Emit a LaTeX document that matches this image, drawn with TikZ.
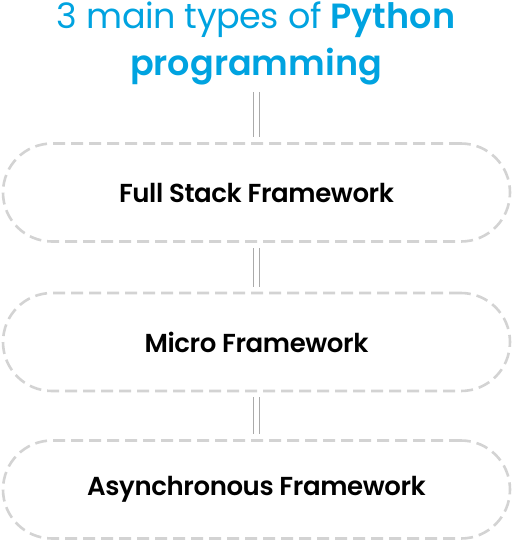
\documentclass[tikz,border=0pt]{standalone}
\usepackage{fontspec}
\setmainfont{Poppins}[BoldFont={* SemiBold}]
\usetikzlibrary{positioning}
\definecolor{pyblue}{RGB}{0,163,224}
\definecolor{dashgray}{RGB}{211,211,211}
\definecolor{linkgray}{RGB}{170,170,170}

\begin{document}
\begin{tikzpicture}[
    x=1pt, y=-1pt,
    title/.style={text=pyblue, align=center, font=\fontsize{35}{47}\selectfont, inner sep=0pt},
    frame/.style={draw=dashgray, line width=2.6pt, dash pattern=on 12pt off 6pt,
      rounded corners=49pt, minimum width=507pt, minimum height=98pt,
      font=\bfseries\fontsize{26}{30}\selectfont\addfontfeatures{LetterSpace=-1.5}, inner sep=0pt},
    link/.style={draw=linkgray, line width=0.9pt, double=white, double distance=5pt,
      shorten <=5pt, shorten >=5pt}
  ]
    \useasboundingbox (0,0) rectangle (513,542);

    % Title
    \node[title, anchor=base] (title) at (256,75)
      {{\addfontfeatures{LetterSpace=-1.2}3 main types of} \textbf{Python}\\\textbf{programming}};

    % Boxes
    \node[frame] (full) at (256.5,192.5) {Full Stack Framework};
    \node[frame] (micro) at (256.5,342) {Micro Framework};
    \node[frame] (async) at (256.5,489.5) {Asynchronous Framework};

    % Links
    \draw[link, shorten <=7pt] (title.south -| full.north) -- (full.north);
    \draw[link] (full) -- (micro);
    \draw[link] (micro) -- (async);
  \end{tikzpicture}
\end{document}
